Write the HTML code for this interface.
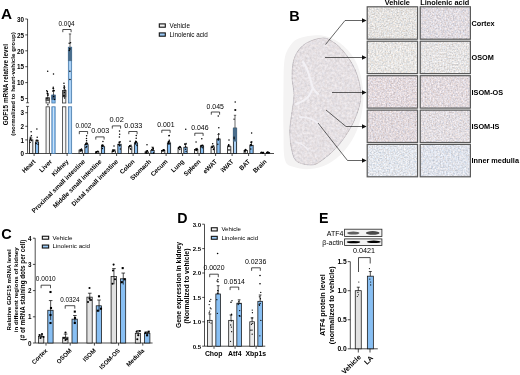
<!DOCTYPE html>
<html><head><meta charset="utf-8"><title>Figure</title>
<style>html,body{margin:0;padding:0;background:#fff}svg{display:block}text{font-family:"Liberation Sans",Arial,sans-serif}</style></head>
<body><svg width="520" height="375" viewBox="0 0 520 375">
<defs>
<filter id="tex" x="-5%" y="-5%" width="110%" height="110%"><feTurbulence type="fractalNoise" baseFrequency="0.4" numOctaves="3" seed="5" result="n"/><feColorMatrix in="n" type="matrix" values="0.8 0.2 0 0 0  0.8 0.1 0.1 0 0  0.8 0 0.2 0 0  0 0 0 0 1" result="m"/><feComposite in="SourceGraphic" in2="m" operator="arithmetic" k1="0" k2="1" k3="0.4" k4="-0.2" result="c"/><feComposite in="c" in2="SourceGraphic" operator="in"/></filter>
<filter id="tile0" x="0" y="0" width="100%" height="100%"><feTurbulence type="fractalNoise" baseFrequency="0.65" numOctaves="3" seed="11" result="n"/><feColorMatrix in="n" type="matrix" values="0.7 0.3 0 0 0  0.7 0.15 0.15 0 0  0.7 0 0.3 0 0  0 0 0 0 1" result="m"/><feComposite in="SourceGraphic" in2="m" operator="arithmetic" k1="0" k2="1" k3="0.8" k4="-0.4" result="c"/><feComposite in="c" in2="SourceGraphic" operator="in"/></filter>
<filter id="tile1" x="0" y="0" width="100%" height="100%"><feTurbulence type="fractalNoise" baseFrequency="0.6" numOctaves="3" seed="29" result="n"/><feColorMatrix in="n" type="matrix" values="0.7 0.3 0 0 0  0.7 0.15 0.15 0 0  0.7 0 0.3 0 0  0 0 0 0 1" result="m"/><feComposite in="SourceGraphic" in2="m" operator="arithmetic" k1="0" k2="1" k3="0.8" k4="-0.4" result="c"/><feComposite in="c" in2="SourceGraphic" operator="in"/></filter>
<filter id="blur" x="-20%" y="-80%" width="140%" height="260%"><feGaussianBlur stdDeviation="0.7"/></filter>
<filter id="blur2" x="-20%" y="-80%" width="140%" height="260%"><feGaussianBlur stdDeviation="0.35"/></filter>
</defs>
<rect width="520" height="375" fill="#fff"/>
<text x="0.90" y="19.40" font-size="15.3" font-weight="bold" text-anchor="start" fill="#000">A</text>
<line x1="27.55" y1="19.00" x2="27.55" y2="102.80" stroke="#000" stroke-width="0.7"/>
<line x1="27.55" y1="106.40" x2="27.55" y2="153.50" stroke="#000" stroke-width="0.7"/>
<line x1="26.05" y1="102.80" x2="29.05" y2="102.80" stroke="#000" stroke-width="0.6"/>
<line x1="26.05" y1="106.40" x2="29.05" y2="106.40" stroke="#000" stroke-width="0.6"/>
<line x1="25.25" y1="19.00" x2="27.55" y2="19.00" stroke="#000" stroke-width="0.7"/>
<text x="23.95" y="21.70" font-size="6.3" font-weight="bold" text-anchor="end" fill="#000">30</text>
<line x1="25.25" y1="34.90" x2="27.55" y2="34.90" stroke="#000" stroke-width="0.7"/>
<text x="23.95" y="37.60" font-size="6.3" font-weight="bold" text-anchor="end" fill="#000">25</text>
<line x1="25.25" y1="50.80" x2="27.55" y2="50.80" stroke="#000" stroke-width="0.7"/>
<text x="23.95" y="53.50" font-size="6.3" font-weight="bold" text-anchor="end" fill="#000">20</text>
<line x1="25.25" y1="66.70" x2="27.55" y2="66.70" stroke="#000" stroke-width="0.7"/>
<text x="23.95" y="69.40" font-size="6.3" font-weight="bold" text-anchor="end" fill="#000">15</text>
<line x1="25.25" y1="82.60" x2="27.55" y2="82.60" stroke="#000" stroke-width="0.7"/>
<text x="23.95" y="85.30" font-size="6.3" font-weight="bold" text-anchor="end" fill="#000">10</text>
<line x1="25.25" y1="98.50" x2="27.55" y2="98.50" stroke="#000" stroke-width="0.7"/>
<text x="23.95" y="101.20" font-size="6.3" font-weight="bold" text-anchor="end" fill="#000">5</text>
<line x1="25.25" y1="112.70" x2="27.55" y2="112.70" stroke="#000" stroke-width="0.7"/>
<text x="23.95" y="115.40" font-size="6.3" font-weight="bold" text-anchor="end" fill="#000">3</text>
<line x1="25.25" y1="126.30" x2="27.55" y2="126.30" stroke="#000" stroke-width="0.7"/>
<text x="23.95" y="129.00" font-size="6.3" font-weight="bold" text-anchor="end" fill="#000">2</text>
<line x1="25.25" y1="139.90" x2="27.55" y2="139.90" stroke="#000" stroke-width="0.7"/>
<text x="23.95" y="142.60" font-size="6.3" font-weight="bold" text-anchor="end" fill="#000">1</text>
<line x1="25.25" y1="153.50" x2="27.55" y2="153.50" stroke="#000" stroke-width="0.7"/>
<text x="23.95" y="156.20" font-size="6.3" font-weight="bold" text-anchor="end" fill="#000">0</text>
<line x1="27.55" y1="153.50" x2="274.00" y2="153.50" stroke="#000" stroke-width="0.7"/>
<text x="7.60" y="84.70" font-size="6.35" font-weight="bold" text-anchor="middle" fill="#000" transform="rotate(-90 7.60 84.70)">GDF15 mRNA relative level</text>
<text x="14.90" y="84.00" font-size="6.2" font-weight="bold" text-anchor="middle" fill="#000" transform="rotate(-90 14.90 84.00)">(normalized to heart-vehicle group)</text>
<rect x="159.30" y="23.90" width="6.00" height="3.30" fill="#f4f4f4" stroke="#111" stroke-width="1.1"/>
<rect x="159.30" y="32.90" width="6.00" height="3.30" fill="#9ccbf7" stroke="#111" stroke-width="1.1"/>
<text x="169.60" y="27.80" font-size="6.3" text-anchor="start" fill="#000">Vehicle</text>
<text x="169.60" y="36.90" font-size="6.3" text-anchor="start" fill="#000">Linolenic acid</text>
<rect x="29.55" y="139.90" width="3.30" height="13.60" fill="#f6f6f6" stroke="#111" stroke-width="0.8"/>
<line x1="31.20" y1="137.86" x2="31.20" y2="139.90" stroke="#000" stroke-width="0.6"/>
<line x1="30.00" y1="137.86" x2="32.40" y2="137.86" stroke="#000" stroke-width="0.6"/>
<circle cx="31.53" cy="140.58" r="0.7" fill="#000"/>
<circle cx="30.26" cy="138.54" r="0.7" fill="#000"/>
<circle cx="30.23" cy="142.37" r="0.7" fill="#000"/>
<circle cx="31.22" cy="140.47" r="0.7" fill="#000"/>
<circle cx="30.25" cy="137.15" r="0.7" fill="#000"/>
<circle cx="30.30" cy="139.24" r="0.7" fill="#000"/>
<circle cx="31.15" cy="131.74" r="0.75" fill="#000"/>
<circle cx="31.40" cy="135.82" r="0.75" fill="#000"/>
<rect x="35.35" y="141.94" width="3.30" height="11.56" fill="#88bff3" stroke="#111" stroke-width="0.8"/>
<line x1="37.00" y1="139.90" x2="37.00" y2="141.94" stroke="#000" stroke-width="0.6"/>
<line x1="35.80" y1="139.90" x2="38.20" y2="139.90" stroke="#000" stroke-width="0.6"/>
<circle cx="37.28" cy="140.60" r="0.7" fill="#000"/>
<circle cx="37.98" cy="140.62" r="0.7" fill="#000"/>
<circle cx="38.05" cy="144.30" r="0.7" fill="#000"/>
<circle cx="36.00" cy="143.18" r="0.7" fill="#000"/>
<circle cx="36.22" cy="140.56" r="0.7" fill="#000"/>
<circle cx="36.16" cy="143.64" r="0.7" fill="#000"/>
<circle cx="36.89" cy="129.02" r="0.75" fill="#000"/>
<circle cx="37.19" cy="137.18" r="0.75" fill="#000"/>
<line x1="34.10" y1="153.50" x2="34.10" y2="156.00" stroke="#000" stroke-width="0.7"/>
<text x="36.10" y="161.90" font-size="6.35" font-weight="bold" text-anchor="end" fill="#000" transform="rotate(-45 36.10 161.90)">Heart</text>
<rect x="46.05" y="106.80" width="3.30" height="46.70" fill="#f6f6f6" stroke="#333" stroke-width="0.8"/>
<rect x="46.05" y="97.86" width="3.30" height="5.14" fill="#f6f6f6" stroke="#333" stroke-width="0.8"/>
<rect x="46.05" y="97.86" width="3.30" height="2.57" fill="#6a6a6a" stroke="#444" stroke-width="0.8"/>
<line x1="47.70" y1="93.73" x2="47.70" y2="97.86" stroke="#000" stroke-width="0.6"/>
<line x1="46.50" y1="93.73" x2="48.90" y2="93.73" stroke="#000" stroke-width="0.6"/>
<circle cx="48.01" cy="94.87" r="0.7" fill="#000"/>
<circle cx="47.42" cy="91.43" r="0.7" fill="#000"/>
<circle cx="46.73" cy="90.69" r="0.7" fill="#000"/>
<circle cx="47.05" cy="98.44" r="0.7" fill="#000"/>
<circle cx="47.29" cy="93.06" r="0.7" fill="#000"/>
<circle cx="47.89" cy="104.77" r="0.7" fill="#000"/>
<circle cx="47.67" cy="71.15" r="0.75" fill="#000"/>
<circle cx="47.58" cy="93.41" r="0.75" fill="#000"/>
<circle cx="47.88" cy="95.32" r="0.75" fill="#000"/>
<rect x="51.85" y="106.80" width="3.30" height="46.70" fill="#88bff3" stroke="#4a7aa8" stroke-width="0.8"/>
<rect x="51.85" y="95.16" width="3.30" height="7.84" fill="#88bff3" stroke="#4a7aa8" stroke-width="0.8"/>
<line x1="53.50" y1="107.40" x2="53.50" y2="153.00" stroke="#eaf3fb" stroke-width="0.7"/>
<rect x="51.85" y="95.16" width="3.30" height="4.31" fill="#3b5b7b" stroke="#3b5b7b" stroke-width="0.8"/>
<rect x="51.85" y="95.16" width="3.30" height="-4.90" fill="#4a6e8c" stroke="#4a6e8c" stroke-width="0.8"/>
<line x1="53.50" y1="90.71" x2="53.50" y2="95.16" stroke="#000" stroke-width="0.6"/>
<line x1="52.30" y1="90.71" x2="54.70" y2="90.71" stroke="#000" stroke-width="0.6"/>
<circle cx="53.66" cy="96.52" r="0.7" fill="#000"/>
<circle cx="53.56" cy="88.79" r="0.7" fill="#000"/>
<circle cx="53.03" cy="88.54" r="0.7" fill="#000"/>
<circle cx="54.56" cy="99.50" r="0.7" fill="#000"/>
<circle cx="54.07" cy="90.72" r="0.7" fill="#000"/>
<circle cx="52.73" cy="91.09" r="0.7" fill="#000"/>
<circle cx="53.49" cy="74.01" r="0.75" fill="#000"/>
<circle cx="53.22" cy="87.21" r="0.75" fill="#000"/>
<circle cx="53.60" cy="90.55" r="0.75" fill="#000"/>
<line x1="50.60" y1="153.50" x2="50.60" y2="156.00" stroke="#000" stroke-width="0.7"/>
<text x="52.60" y="161.90" font-size="6.35" font-weight="bold" text-anchor="end" fill="#000" transform="rotate(-45 52.60 161.90)">Liver</text>
<rect x="62.55" y="106.80" width="3.30" height="46.70" fill="#f6f6f6" stroke="#333" stroke-width="0.8"/>
<rect x="62.55" y="90.55" width="3.30" height="12.45" fill="#f6f6f6" stroke="#333" stroke-width="0.8"/>
<rect x="62.55" y="90.55" width="3.30" height="6.23" fill="#6a6a6a" stroke="#444" stroke-width="0.8"/>
<line x1="64.20" y1="87.37" x2="64.20" y2="90.55" stroke="#000" stroke-width="0.6"/>
<line x1="63.00" y1="87.37" x2="65.40" y2="87.37" stroke="#000" stroke-width="0.6"/>
<circle cx="65.03" cy="90.06" r="0.7" fill="#000"/>
<circle cx="63.79" cy="95.92" r="0.7" fill="#000"/>
<circle cx="64.38" cy="92.42" r="0.7" fill="#000"/>
<circle cx="64.10" cy="95.78" r="0.7" fill="#000"/>
<circle cx="64.14" cy="85.59" r="0.7" fill="#000"/>
<circle cx="64.56" cy="97.99" r="0.7" fill="#000"/>
<circle cx="63.94" cy="83.24" r="0.75" fill="#000"/>
<circle cx="64.32" cy="86.73" r="0.75" fill="#000"/>
<circle cx="64.29" cy="88.32" r="0.75" fill="#000"/>
<rect x="68.35" y="106.80" width="3.30" height="46.70" fill="#88bff3" stroke="#4a7aa8" stroke-width="0.8"/>
<rect x="68.35" y="47.30" width="3.30" height="55.70" fill="#88bff3" stroke="#4a7aa8" stroke-width="0.8"/>
<line x1="70.00" y1="107.40" x2="70.00" y2="153.00" stroke="#eaf3fb" stroke-width="0.7"/>
<line x1="70.00" y1="61.16" x2="70.00" y2="102.60" stroke="#eaf3fb" stroke-width="0.7"/>
<rect x="68.35" y="47.30" width="3.30" height="13.36" fill="#4a6e8c" stroke="#4a6e8c" stroke-width="0.8"/>
<line x1="70.00" y1="33.95" x2="70.00" y2="47.30" stroke="#000" stroke-width="0.6"/>
<line x1="68.80" y1="33.95" x2="71.20" y2="33.95" stroke="#000" stroke-width="0.6"/>
<circle cx="69.53" cy="26.47" r="0.7" fill="#000"/>
<circle cx="69.75" cy="48.70" r="0.7" fill="#000"/>
<circle cx="69.92" cy="49.12" r="0.7" fill="#000"/>
<circle cx="69.27" cy="50.54" r="0.7" fill="#000"/>
<circle cx="70.59" cy="42.81" r="0.7" fill="#000"/>
<circle cx="69.18" cy="43.24" r="0.7" fill="#000"/>
<circle cx="69.85" cy="71.15" r="0.75" fill="#000"/>
<circle cx="69.93" cy="79.42" r="0.75" fill="#000"/>
<line x1="67.10" y1="153.50" x2="67.10" y2="156.00" stroke="#000" stroke-width="0.7"/>
<text x="69.10" y="161.90" font-size="6.35" font-weight="bold" text-anchor="end" fill="#000" transform="rotate(-45 69.10 161.90)">Kidney</text>
<rect x="79.05" y="150.10" width="3.30" height="3.40" fill="#f6f6f6" stroke="#111" stroke-width="0.8"/>
<line x1="80.70" y1="149.42" x2="80.70" y2="150.10" stroke="#000" stroke-width="0.6"/>
<line x1="79.50" y1="149.42" x2="81.90" y2="149.42" stroke="#000" stroke-width="0.6"/>
<circle cx="80.59" cy="149.85" r="0.7" fill="#000"/>
<circle cx="80.81" cy="150.36" r="0.7" fill="#000"/>
<circle cx="81.50" cy="149.04" r="0.7" fill="#000"/>
<circle cx="80.21" cy="151.19" r="0.7" fill="#000"/>
<circle cx="81.55" cy="150.82" r="0.7" fill="#000"/>
<circle cx="81.71" cy="149.68" r="0.7" fill="#000"/>
<rect x="84.85" y="144.66" width="3.30" height="8.84" fill="#88bff3" stroke="#111" stroke-width="0.8"/>
<line x1="86.50" y1="143.03" x2="86.50" y2="144.66" stroke="#000" stroke-width="0.6"/>
<line x1="85.30" y1="143.03" x2="87.70" y2="143.03" stroke="#000" stroke-width="0.6"/>
<circle cx="85.91" cy="143.89" r="0.7" fill="#000"/>
<circle cx="85.91" cy="143.59" r="0.7" fill="#000"/>
<circle cx="85.98" cy="147.48" r="0.7" fill="#000"/>
<circle cx="85.41" cy="144.39" r="0.7" fill="#000"/>
<circle cx="86.65" cy="146.44" r="0.7" fill="#000"/>
<circle cx="87.50" cy="143.67" r="0.7" fill="#000"/>
<circle cx="86.61" cy="135.82" r="0.75" fill="#000"/>
<circle cx="86.51" cy="138.54" r="0.75" fill="#000"/>
<circle cx="86.57" cy="140.85" r="0.75" fill="#000"/>
<circle cx="86.61" cy="142.89" r="0.75" fill="#000"/>
<line x1="83.60" y1="153.50" x2="83.60" y2="156.00" stroke="#000" stroke-width="0.7"/>
<text x="85.60" y="161.90" font-size="6.35" font-weight="bold" text-anchor="end" fill="#000" transform="rotate(-45 85.60 161.90)">Proximal small intestine</text>
<rect x="95.55" y="151.87" width="3.30" height="1.63" fill="#f6f6f6" stroke="#111" stroke-width="0.8"/>
<line x1="97.20" y1="151.46" x2="97.20" y2="151.87" stroke="#000" stroke-width="0.6"/>
<line x1="96.00" y1="151.46" x2="98.40" y2="151.46" stroke="#000" stroke-width="0.6"/>
<circle cx="97.82" cy="151.23" r="0.7" fill="#000"/>
<circle cx="98.02" cy="151.49" r="0.7" fill="#000"/>
<circle cx="96.98" cy="151.71" r="0.7" fill="#000"/>
<circle cx="96.33" cy="152.37" r="0.7" fill="#000"/>
<circle cx="96.25" cy="151.99" r="0.7" fill="#000"/>
<circle cx="96.56" cy="152.01" r="0.7" fill="#000"/>
<rect x="101.35" y="146.70" width="3.30" height="6.80" fill="#88bff3" stroke="#111" stroke-width="0.8"/>
<line x1="103.00" y1="145.34" x2="103.00" y2="146.70" stroke="#000" stroke-width="0.6"/>
<line x1="101.80" y1="145.34" x2="104.20" y2="145.34" stroke="#000" stroke-width="0.6"/>
<circle cx="102.02" cy="145.86" r="0.7" fill="#000"/>
<circle cx="101.90" cy="145.33" r="0.7" fill="#000"/>
<circle cx="102.70" cy="146.22" r="0.7" fill="#000"/>
<circle cx="101.96" cy="146.03" r="0.7" fill="#000"/>
<circle cx="102.23" cy="144.98" r="0.7" fill="#000"/>
<circle cx="102.45" cy="148.43" r="0.7" fill="#000"/>
<circle cx="102.91" cy="141.53" r="0.75" fill="#000"/>
<circle cx="102.92" cy="145.34" r="0.75" fill="#000"/>
<line x1="100.10" y1="153.50" x2="100.10" y2="156.00" stroke="#000" stroke-width="0.7"/>
<text x="102.10" y="161.90" font-size="6.35" font-weight="bold" text-anchor="end" fill="#000" transform="rotate(-45 102.10 161.90)">Middle small intestine</text>
<rect x="112.05" y="151.05" width="3.30" height="2.45" fill="#f6f6f6" stroke="#111" stroke-width="0.8"/>
<line x1="113.70" y1="150.37" x2="113.70" y2="151.05" stroke="#000" stroke-width="0.6"/>
<line x1="112.50" y1="150.37" x2="114.90" y2="150.37" stroke="#000" stroke-width="0.6"/>
<circle cx="114.78" cy="149.99" r="0.7" fill="#000"/>
<circle cx="113.63" cy="149.99" r="0.7" fill="#000"/>
<circle cx="112.82" cy="151.42" r="0.7" fill="#000"/>
<circle cx="113.35" cy="151.01" r="0.7" fill="#000"/>
<circle cx="112.96" cy="151.21" r="0.7" fill="#000"/>
<circle cx="112.65" cy="149.99" r="0.7" fill="#000"/>
<circle cx="113.97" cy="146.02" r="0.75" fill="#000"/>
<rect x="117.85" y="144.25" width="3.30" height="9.25" fill="#88bff3" stroke="#111" stroke-width="0.8"/>
<line x1="119.50" y1="142.21" x2="119.50" y2="144.25" stroke="#000" stroke-width="0.6"/>
<line x1="118.30" y1="142.21" x2="120.70" y2="142.21" stroke="#000" stroke-width="0.6"/>
<circle cx="119.59" cy="145.72" r="0.7" fill="#000"/>
<circle cx="118.46" cy="144.52" r="0.7" fill="#000"/>
<circle cx="120.30" cy="149.03" r="0.7" fill="#000"/>
<circle cx="119.93" cy="145.54" r="0.7" fill="#000"/>
<circle cx="118.77" cy="144.43" r="0.7" fill="#000"/>
<circle cx="120.10" cy="141.72" r="0.7" fill="#000"/>
<circle cx="119.52" cy="130.92" r="0.75" fill="#000"/>
<circle cx="119.67" cy="134.19" r="0.75" fill="#000"/>
<circle cx="119.40" cy="136.91" r="0.75" fill="#000"/>
<circle cx="119.33" cy="142.35" r="0.75" fill="#000"/>
<line x1="116.60" y1="153.50" x2="116.60" y2="156.00" stroke="#000" stroke-width="0.7"/>
<text x="118.60" y="161.90" font-size="6.35" font-weight="bold" text-anchor="end" fill="#000" transform="rotate(-45 118.60 161.90)">Distal small intestine</text>
<rect x="128.55" y="146.70" width="3.30" height="6.80" fill="#f6f6f6" stroke="#111" stroke-width="0.8"/>
<line x1="130.20" y1="145.61" x2="130.20" y2="146.70" stroke="#000" stroke-width="0.6"/>
<line x1="129.00" y1="145.61" x2="131.40" y2="145.61" stroke="#000" stroke-width="0.6"/>
<circle cx="130.98" cy="145.16" r="0.7" fill="#000"/>
<circle cx="130.87" cy="149.25" r="0.7" fill="#000"/>
<circle cx="129.60" cy="145.73" r="0.7" fill="#000"/>
<circle cx="130.24" cy="148.81" r="0.7" fill="#000"/>
<circle cx="129.16" cy="146.91" r="0.7" fill="#000"/>
<circle cx="129.71" cy="146.43" r="0.7" fill="#000"/>
<circle cx="130.06" cy="141.26" r="0.75" fill="#000"/>
<rect x="134.35" y="142.89" width="3.30" height="10.61" fill="#88bff3" stroke="#111" stroke-width="0.8"/>
<line x1="136.00" y1="141.80" x2="136.00" y2="142.89" stroke="#000" stroke-width="0.6"/>
<line x1="134.80" y1="141.80" x2="137.20" y2="141.80" stroke="#000" stroke-width="0.6"/>
<circle cx="135.88" cy="144.14" r="0.7" fill="#000"/>
<circle cx="136.96" cy="145.44" r="0.7" fill="#000"/>
<circle cx="135.70" cy="141.19" r="0.7" fill="#000"/>
<circle cx="135.39" cy="143.16" r="0.7" fill="#000"/>
<circle cx="135.35" cy="142.76" r="0.7" fill="#000"/>
<circle cx="136.27" cy="141.97" r="0.7" fill="#000"/>
<circle cx="136.24" cy="135.55" r="0.75" fill="#000"/>
<circle cx="136.20" cy="138.27" r="0.75" fill="#000"/>
<circle cx="135.99" cy="141.53" r="0.75" fill="#000"/>
<line x1="133.10" y1="153.50" x2="133.10" y2="156.00" stroke="#000" stroke-width="0.7"/>
<text x="135.10" y="161.90" font-size="6.35" font-weight="bold" text-anchor="end" fill="#000" transform="rotate(-45 135.10 161.90)">Colon</text>
<rect x="145.05" y="151.87" width="3.30" height="1.63" fill="#f6f6f6" stroke="#111" stroke-width="0.8"/>
<line x1="146.70" y1="151.19" x2="146.70" y2="151.87" stroke="#000" stroke-width="0.6"/>
<line x1="145.50" y1="151.19" x2="147.90" y2="151.19" stroke="#000" stroke-width="0.6"/>
<circle cx="145.79" cy="152.78" r="0.7" fill="#000"/>
<circle cx="147.05" cy="153.09" r="0.7" fill="#000"/>
<circle cx="147.25" cy="150.81" r="0.7" fill="#000"/>
<circle cx="146.65" cy="152.70" r="0.7" fill="#000"/>
<circle cx="146.33" cy="151.19" r="0.7" fill="#000"/>
<circle cx="147.36" cy="150.81" r="0.7" fill="#000"/>
<circle cx="146.98" cy="144.66" r="0.75" fill="#000"/>
<rect x="150.85" y="150.51" width="3.30" height="2.99" fill="#88bff3" stroke="#111" stroke-width="0.8"/>
<line x1="152.50" y1="147.11" x2="152.50" y2="150.51" stroke="#000" stroke-width="0.6"/>
<line x1="151.30" y1="147.11" x2="153.70" y2="147.11" stroke="#000" stroke-width="0.6"/>
<circle cx="153.48" cy="153.09" r="0.7" fill="#000"/>
<circle cx="152.99" cy="147.78" r="0.7" fill="#000"/>
<circle cx="151.73" cy="149.40" r="0.7" fill="#000"/>
<circle cx="153.39" cy="148.49" r="0.7" fill="#000"/>
<circle cx="153.22" cy="149.64" r="0.7" fill="#000"/>
<circle cx="153.56" cy="152.84" r="0.7" fill="#000"/>
<line x1="149.60" y1="153.50" x2="149.60" y2="156.00" stroke="#000" stroke-width="0.7"/>
<text x="151.60" y="161.90" font-size="6.35" font-weight="bold" text-anchor="end" fill="#000" transform="rotate(-45 151.60 161.90)">Stomach</text>
<rect x="161.55" y="150.51" width="3.30" height="2.99" fill="#f6f6f6" stroke="#111" stroke-width="0.8"/>
<line x1="163.20" y1="149.96" x2="163.20" y2="150.51" stroke="#000" stroke-width="0.6"/>
<line x1="162.00" y1="149.96" x2="164.40" y2="149.96" stroke="#000" stroke-width="0.6"/>
<circle cx="163.31" cy="150.87" r="0.7" fill="#000"/>
<circle cx="162.39" cy="151.06" r="0.7" fill="#000"/>
<circle cx="163.53" cy="149.66" r="0.7" fill="#000"/>
<circle cx="163.26" cy="150.34" r="0.7" fill="#000"/>
<circle cx="164.02" cy="149.82" r="0.7" fill="#000"/>
<circle cx="163.92" cy="150.81" r="0.7" fill="#000"/>
<rect x="167.35" y="142.89" width="3.30" height="10.61" fill="#88bff3" stroke="#111" stroke-width="0.8"/>
<line x1="169.00" y1="141.53" x2="169.00" y2="142.89" stroke="#000" stroke-width="0.6"/>
<line x1="167.80" y1="141.53" x2="170.20" y2="141.53" stroke="#000" stroke-width="0.6"/>
<circle cx="168.54" cy="142.57" r="0.7" fill="#000"/>
<circle cx="168.43" cy="141.59" r="0.7" fill="#000"/>
<circle cx="168.82" cy="144.06" r="0.7" fill="#000"/>
<circle cx="168.19" cy="143.60" r="0.7" fill="#000"/>
<circle cx="168.91" cy="141.50" r="0.7" fill="#000"/>
<circle cx="169.18" cy="143.78" r="0.7" fill="#000"/>
<circle cx="169.24" cy="135.55" r="0.75" fill="#000"/>
<circle cx="168.95" cy="135.82" r="0.75" fill="#000"/>
<circle cx="169.25" cy="140.17" r="0.75" fill="#000"/>
<line x1="166.10" y1="153.50" x2="166.10" y2="156.00" stroke="#000" stroke-width="0.7"/>
<text x="168.10" y="161.90" font-size="6.35" font-weight="bold" text-anchor="end" fill="#000" transform="rotate(-45 168.10 161.90)">Cecum</text>
<rect x="178.05" y="147.79" width="3.30" height="5.71" fill="#f6f6f6" stroke="#111" stroke-width="0.8"/>
<line x1="179.70" y1="146.70" x2="179.70" y2="147.79" stroke="#000" stroke-width="0.6"/>
<line x1="178.50" y1="146.70" x2="180.90" y2="146.70" stroke="#000" stroke-width="0.6"/>
<circle cx="179.75" cy="149.53" r="0.7" fill="#000"/>
<circle cx="178.64" cy="147.81" r="0.7" fill="#000"/>
<circle cx="178.61" cy="148.62" r="0.7" fill="#000"/>
<circle cx="180.36" cy="147.46" r="0.7" fill="#000"/>
<circle cx="180.20" cy="147.04" r="0.7" fill="#000"/>
<circle cx="179.82" cy="146.37" r="0.7" fill="#000"/>
<rect x="183.85" y="147.24" width="3.30" height="6.26" fill="#88bff3" stroke="#111" stroke-width="0.8"/>
<line x1="185.50" y1="144.52" x2="185.50" y2="147.24" stroke="#000" stroke-width="0.6"/>
<line x1="184.30" y1="144.52" x2="186.70" y2="144.52" stroke="#000" stroke-width="0.6"/>
<circle cx="185.62" cy="149.21" r="0.7" fill="#000"/>
<circle cx="186.13" cy="143.45" r="0.7" fill="#000"/>
<circle cx="184.95" cy="143.68" r="0.7" fill="#000"/>
<circle cx="185.01" cy="144.44" r="0.7" fill="#000"/>
<circle cx="185.64" cy="146.66" r="0.7" fill="#000"/>
<circle cx="186.07" cy="151.41" r="0.7" fill="#000"/>
<circle cx="185.75" cy="129.16" r="0.75" fill="#000"/>
<line x1="182.60" y1="153.50" x2="182.60" y2="156.00" stroke="#000" stroke-width="0.7"/>
<text x="184.60" y="161.90" font-size="6.35" font-weight="bold" text-anchor="end" fill="#000" transform="rotate(-45 184.60 161.90)">Lung</text>
<rect x="194.55" y="149.42" width="3.30" height="4.08" fill="#f6f6f6" stroke="#111" stroke-width="0.8"/>
<line x1="196.20" y1="148.74" x2="196.20" y2="149.42" stroke="#000" stroke-width="0.6"/>
<line x1="195.00" y1="148.74" x2="197.40" y2="148.74" stroke="#000" stroke-width="0.6"/>
<circle cx="196.21" cy="150.56" r="0.7" fill="#000"/>
<circle cx="196.23" cy="149.00" r="0.7" fill="#000"/>
<circle cx="196.27" cy="149.76" r="0.7" fill="#000"/>
<circle cx="196.15" cy="150.33" r="0.7" fill="#000"/>
<circle cx="197.03" cy="148.36" r="0.7" fill="#000"/>
<circle cx="197.17" cy="149.91" r="0.7" fill="#000"/>
<circle cx="196.06" cy="141.94" r="0.75" fill="#000"/>
<rect x="200.35" y="146.16" width="3.30" height="7.34" fill="#88bff3" stroke="#111" stroke-width="0.8"/>
<line x1="202.00" y1="145.48" x2="202.00" y2="146.16" stroke="#000" stroke-width="0.6"/>
<line x1="200.80" y1="145.48" x2="203.20" y2="145.48" stroke="#000" stroke-width="0.6"/>
<circle cx="202.75" cy="147.75" r="0.7" fill="#000"/>
<circle cx="201.20" cy="146.93" r="0.7" fill="#000"/>
<circle cx="201.06" cy="145.47" r="0.7" fill="#000"/>
<circle cx="201.43" cy="145.50" r="0.7" fill="#000"/>
<circle cx="202.62" cy="145.10" r="0.7" fill="#000"/>
<circle cx="202.87" cy="145.57" r="0.7" fill="#000"/>
<circle cx="201.79" cy="138.81" r="0.75" fill="#000"/>
<line x1="199.10" y1="153.50" x2="199.10" y2="156.00" stroke="#000" stroke-width="0.7"/>
<text x="201.10" y="161.90" font-size="6.35" font-weight="bold" text-anchor="end" fill="#000" transform="rotate(-45 201.10 161.90)">Spleen</text>
<rect x="211.05" y="146.97" width="3.30" height="6.53" fill="#f6f6f6" stroke="#111" stroke-width="0.8"/>
<line x1="212.70" y1="145.88" x2="212.70" y2="146.97" stroke="#000" stroke-width="0.6"/>
<line x1="211.50" y1="145.88" x2="213.90" y2="145.88" stroke="#000" stroke-width="0.6"/>
<circle cx="211.91" cy="147.41" r="0.7" fill="#000"/>
<circle cx="213.54" cy="149.00" r="0.7" fill="#000"/>
<circle cx="213.70" cy="146.00" r="0.7" fill="#000"/>
<circle cx="212.48" cy="147.17" r="0.7" fill="#000"/>
<circle cx="213.43" cy="149.52" r="0.7" fill="#000"/>
<circle cx="211.96" cy="146.63" r="0.7" fill="#000"/>
<circle cx="212.66" cy="143.71" r="0.75" fill="#000"/>
<rect x="216.85" y="138.95" width="3.30" height="14.55" fill="#88bff3" stroke="#111" stroke-width="0.8"/>
<line x1="218.50" y1="134.46" x2="218.50" y2="138.95" stroke="#000" stroke-width="0.6"/>
<line x1="217.30" y1="134.46" x2="219.70" y2="134.46" stroke="#000" stroke-width="0.6"/>
<circle cx="217.83" cy="144.23" r="0.7" fill="#000"/>
<circle cx="218.10" cy="139.47" r="0.7" fill="#000"/>
<circle cx="218.62" cy="139.15" r="0.7" fill="#000"/>
<circle cx="218.37" cy="140.09" r="0.7" fill="#000"/>
<circle cx="218.77" cy="133.75" r="0.7" fill="#000"/>
<circle cx="218.53" cy="138.35" r="0.7" fill="#000"/>
<circle cx="218.24" cy="116.10" r="0.75" fill="#000"/>
<circle cx="218.79" cy="127.66" r="0.75" fill="#000"/>
<line x1="215.60" y1="153.50" x2="215.60" y2="156.00" stroke="#000" stroke-width="0.7"/>
<text x="217.60" y="161.90" font-size="6.35" font-weight="bold" text-anchor="end" fill="#000" transform="rotate(-45 217.60 161.90)">eWAT</text>
<rect x="227.55" y="146.70" width="3.30" height="6.80" fill="#f6f6f6" stroke="#111" stroke-width="0.8"/>
<line x1="229.20" y1="145.34" x2="229.20" y2="146.70" stroke="#000" stroke-width="0.6"/>
<line x1="228.00" y1="145.34" x2="230.40" y2="145.34" stroke="#000" stroke-width="0.6"/>
<circle cx="228.33" cy="145.57" r="0.7" fill="#000"/>
<circle cx="228.68" cy="149.88" r="0.7" fill="#000"/>
<circle cx="228.69" cy="144.58" r="0.7" fill="#000"/>
<circle cx="228.39" cy="145.94" r="0.7" fill="#000"/>
<circle cx="229.90" cy="149.88" r="0.7" fill="#000"/>
<circle cx="228.67" cy="144.87" r="0.7" fill="#000"/>
<circle cx="228.99" cy="139.90" r="0.75" fill="#000"/>
<rect x="233.35" y="128.20" width="3.30" height="25.30" fill="#88bff3" stroke="#111" stroke-width="0.8"/>
<rect x="233.35" y="128.20" width="3.30" height="12.92" fill="#4a6e8c" stroke="#4a6e8c" stroke-width="0.8"/>
<line x1="235.00" y1="141.62" x2="235.00" y2="153.00" stroke="#eaf3fb" stroke-width="0.7"/>
<line x1="235.00" y1="115.28" x2="235.00" y2="128.20" stroke="#000" stroke-width="0.6"/>
<line x1="233.80" y1="115.28" x2="236.20" y2="115.28" stroke="#000" stroke-width="0.6"/>
<circle cx="235.44" cy="109.98" r="0.7" fill="#000"/>
<circle cx="234.10" cy="138.82" r="0.7" fill="#000"/>
<circle cx="234.84" cy="109.98" r="0.7" fill="#000"/>
<circle cx="234.06" cy="119.14" r="0.7" fill="#000"/>
<circle cx="235.66" cy="109.98" r="0.7" fill="#000"/>
<circle cx="234.08" cy="137.20" r="0.7" fill="#000"/>
<circle cx="235.21" cy="102.09" r="0.75" fill="#000"/>
<line x1="232.10" y1="153.50" x2="232.10" y2="156.00" stroke="#000" stroke-width="0.7"/>
<text x="234.10" y="161.90" font-size="6.35" font-weight="bold" text-anchor="end" fill="#000" transform="rotate(-45 234.10 161.90)">iWAT</text>
<rect x="244.05" y="150.51" width="3.30" height="2.99" fill="#f6f6f6" stroke="#111" stroke-width="0.8"/>
<line x1="245.70" y1="149.83" x2="245.70" y2="150.51" stroke="#000" stroke-width="0.6"/>
<line x1="244.50" y1="149.83" x2="246.90" y2="149.83" stroke="#000" stroke-width="0.6"/>
<circle cx="245.60" cy="149.45" r="0.7" fill="#000"/>
<circle cx="245.35" cy="149.79" r="0.7" fill="#000"/>
<circle cx="245.19" cy="152.10" r="0.7" fill="#000"/>
<circle cx="244.88" cy="151.17" r="0.7" fill="#000"/>
<circle cx="244.84" cy="151.15" r="0.7" fill="#000"/>
<circle cx="244.96" cy="150.62" r="0.7" fill="#000"/>
<rect x="249.85" y="145.34" width="3.30" height="8.16" fill="#88bff3" stroke="#111" stroke-width="0.8"/>
<line x1="251.50" y1="141.94" x2="251.50" y2="145.34" stroke="#000" stroke-width="0.6"/>
<line x1="250.30" y1="141.94" x2="252.70" y2="141.94" stroke="#000" stroke-width="0.6"/>
<circle cx="251.09" cy="142.52" r="0.7" fill="#000"/>
<circle cx="251.07" cy="144.42" r="0.7" fill="#000"/>
<circle cx="251.50" cy="145.12" r="0.7" fill="#000"/>
<circle cx="250.79" cy="148.99" r="0.7" fill="#000"/>
<circle cx="250.95" cy="145.82" r="0.7" fill="#000"/>
<circle cx="250.43" cy="144.65" r="0.7" fill="#000"/>
<circle cx="251.64" cy="133.10" r="0.75" fill="#000"/>
<circle cx="251.53" cy="141.94" r="0.75" fill="#000"/>
<line x1="248.60" y1="153.50" x2="248.60" y2="156.00" stroke="#000" stroke-width="0.7"/>
<text x="250.60" y="161.90" font-size="6.35" font-weight="bold" text-anchor="end" fill="#000" transform="rotate(-45 250.60 161.90)">BAT</text>
<rect x="260.55" y="152.68" width="3.30" height="0.82" fill="#f6f6f6" stroke="#111" stroke-width="0.8"/>
<line x1="262.20" y1="152.41" x2="262.20" y2="152.68" stroke="#000" stroke-width="0.6"/>
<line x1="261.00" y1="152.41" x2="263.40" y2="152.41" stroke="#000" stroke-width="0.6"/>
<circle cx="263.16" cy="152.54" r="0.7" fill="#000"/>
<circle cx="261.33" cy="152.31" r="0.7" fill="#000"/>
<circle cx="262.19" cy="152.53" r="0.7" fill="#000"/>
<circle cx="262.94" cy="153.03" r="0.7" fill="#000"/>
<circle cx="262.61" cy="153.01" r="0.7" fill="#000"/>
<circle cx="263.26" cy="152.42" r="0.7" fill="#000"/>
<rect x="266.35" y="152.55" width="3.30" height="0.95" fill="#88bff3" stroke="#111" stroke-width="0.8"/>
<line x1="268.00" y1="152.28" x2="268.00" y2="152.55" stroke="#000" stroke-width="0.6"/>
<line x1="266.80" y1="152.28" x2="269.20" y2="152.28" stroke="#000" stroke-width="0.6"/>
<circle cx="268.45" cy="152.92" r="0.7" fill="#000"/>
<circle cx="268.30" cy="152.12" r="0.7" fill="#000"/>
<circle cx="267.02" cy="152.82" r="0.7" fill="#000"/>
<circle cx="267.19" cy="152.36" r="0.7" fill="#000"/>
<circle cx="267.46" cy="152.12" r="0.7" fill="#000"/>
<circle cx="267.26" cy="152.30" r="0.7" fill="#000"/>
<line x1="265.10" y1="153.50" x2="265.10" y2="156.00" stroke="#000" stroke-width="0.7"/>
<text x="267.10" y="161.90" font-size="6.35" font-weight="bold" text-anchor="end" fill="#000" transform="rotate(-45 267.10 161.90)">Brain</text>
<path d="M62.80 32.20V29.50H71.10V32.20" fill="none" stroke="#000" stroke-width="0.7"/>
<text x="66.50" y="26.30" font-size="6.4" text-anchor="middle" fill="#000">0.004</text>
<path d="M79.30 134.20V131.50H87.60V134.20" fill="none" stroke="#000" stroke-width="0.7"/>
<text x="83.40" y="128.20" font-size="6.3" text-anchor="middle" fill="#000">0.002</text>
<path d="M95.80 139.60V136.90H104.10V139.60" fill="none" stroke="#000" stroke-width="0.7"/>
<text x="100.20" y="133.00" font-size="7.2" text-anchor="middle" fill="#000">0.003</text>
<path d="M112.30 128.60V125.90H120.60V128.60" fill="none" stroke="#000" stroke-width="0.7"/>
<text x="116.60" y="121.90" font-size="7.4" text-anchor="middle" fill="#000">0.02</text>
<path d="M128.80 134.20V131.50H137.10V134.20" fill="none" stroke="#000" stroke-width="0.7"/>
<text x="133.30" y="127.90" font-size="7.3" text-anchor="middle" fill="#000">0.033</text>
<path d="M161.80 132.90V130.20H170.10V132.90" fill="none" stroke="#000" stroke-width="0.7"/>
<text x="165.90" y="126.60" font-size="6.9" text-anchor="middle" fill="#000">0.001</text>
<path d="M194.80 135.90V133.20H203.10V135.90" fill="none" stroke="#000" stroke-width="0.7"/>
<text x="199.90" y="129.80" font-size="6.9" text-anchor="middle" fill="#000">0.046</text>
<path d="M211.30 114.70V112.00H219.60V114.70" fill="none" stroke="#000" stroke-width="0.7"/>
<text x="215.20" y="108.50" font-size="6.9" text-anchor="middle" fill="#000">0.045</text>
<text x="289.30" y="20.80" font-size="14.5" font-weight="bold" text-anchor="start" fill="#000">B</text>
<path d="M300.0 38.0C305.3 36.2 315.3 34.7 322.0 35.5C328.7 36.3 334.5 38.9 340.0 43.0C345.5 47.1 351.3 53.5 355.0 60.0C358.7 66.5 360.7 74.5 362.0 82.0C363.3 89.5 363.8 97.0 363.0 105.0C362.2 113.0 360.0 122.5 357.0 130.0C354.0 137.5 349.8 144.3 345.0 150.0C340.2 155.7 333.8 160.8 328.0 164.0C322.2 167.2 315.7 168.5 310.0 169.0C304.3 169.5 298.2 168.5 294.0 167.0C289.8 165.5 286.8 166.2 285.0 160.0C283.2 153.8 283.8 141.7 283.5 130.0C283.2 118.3 283.3 101.7 283.5 90.0C283.7 78.3 283.4 67.3 284.5 60.0C285.6 52.7 287.4 49.7 290.0 46.0C292.6 42.3 294.7 39.8 300.0 38.0Z" fill="#f4f3f3"/>
<path d="M322.7 38.0C327.3 37.8 329.8 39.9 333.4 42.2C336.9 44.5 340.4 47.5 344.0 52.0C347.6 56.5 352.1 62.9 354.8 69.0C357.5 75.1 359.5 82.3 360.3 88.4C361.1 94.5 361.1 99.1 359.5 105.5C357.9 111.9 354.8 120.1 351.0 127.0C347.2 133.9 342.0 141.3 337.0 147.0C332.0 152.7 325.3 158.0 321.0 161.0C316.7 164.0 315.0 164.9 311.0 165.0C307.0 165.1 300.2 163.8 297.0 161.5C293.8 159.2 293.2 156.1 292.0 151.0C290.8 145.9 289.8 137.5 289.8 131.0C289.8 124.5 291.3 117.9 292.0 111.9C292.7 105.9 294.0 100.9 294.0 94.8C294.0 88.7 291.8 81.9 292.0 75.5C292.2 69.1 292.7 61.6 295.0 56.3C297.3 51.0 301.0 46.5 305.6 43.5C310.2 40.5 318.1 38.2 322.7 38.0Z" fill="#e5e0e3" stroke="#cbc4c9" stroke-width="0.9" filter="url(#tex)"/>
<path d="M303.0 62.0C303.6 63.0 305.3 65.3 306.5 68.0C307.7 70.7 308.9 74.7 310.0 78.0C311.1 81.3 311.7 85.3 313.0 88.0C314.3 90.7 317.2 93.0 318.0 94.0" fill="none" stroke="#f3f1f5" stroke-width="2.2" stroke-linecap="round"/>
<path d="M313.0 88.0C312.2 89.5 310.0 94.7 308.0 97.0C306.0 99.3 303.0 100.8 301.0 102.0C299.0 103.2 296.8 103.7 296.0 104.0" fill="none" stroke="#f3f1f5" stroke-width="2" stroke-linecap="round"/>
<path d="M300.0 117.0C301.3 117.2 305.5 117.3 308.0 118.0C310.5 118.7 313.0 119.7 315.0 121.0C317.0 122.3 319.2 125.2 320.0 126.0" fill="none" stroke="#f1eff4" stroke-width="1.8" stroke-linecap="round"/>
<path d="M296.0 142.0C297.2 142.5 301.0 143.7 303.0 145.0C305.0 146.3 307.2 149.2 308.0 150.0" fill="none" stroke="#f1eff4" stroke-width="1.4" stroke-linecap="round"/>
<rect x="367.2" y="6.8" width="50.4" height="32.4" fill="#e4e2e0" filter="url(#tile0)"/>
<rect x="420.2" y="6.8" width="50.2" height="32.4" fill="#e0dbe0" filter="url(#tile1)"/>
<rect x="367.20" y="6.80" width="50.40" height="32.40" fill="none" stroke="#5a5a5a" stroke-width="1.2"/>
<rect x="420.20" y="6.80" width="50.20" height="32.40" fill="none" stroke="#5a5a5a" stroke-width="1.2"/>
<text x="471.50" y="25.70" font-size="7.3" font-weight="bold" text-anchor="start" fill="#000">Cortex</text>
<rect x="367.2" y="41.2" width="50.4" height="32.4" fill="#e7e5e3" filter="url(#tile1)"/>
<rect x="420.2" y="41.2" width="50.2" height="32.4" fill="#e5e3e3" filter="url(#tile0)"/>
<rect x="367.20" y="41.20" width="50.40" height="32.40" fill="none" stroke="#5a5a5a" stroke-width="1.2"/>
<rect x="420.20" y="41.20" width="50.20" height="32.40" fill="none" stroke="#5a5a5a" stroke-width="1.2"/>
<text x="471.50" y="60.10" font-size="7.3" font-weight="bold" text-anchor="start" fill="#000">OSOM</text>
<rect x="367.2" y="75.7" width="50.4" height="32.4" fill="#e2d9dd" filter="url(#tile0)"/>
<rect x="420.2" y="75.7" width="50.2" height="32.4" fill="#e2dade" filter="url(#tile1)"/>
<rect x="367.20" y="75.70" width="50.40" height="32.40" fill="none" stroke="#5a5a5a" stroke-width="1.2"/>
<rect x="420.20" y="75.70" width="50.20" height="32.40" fill="none" stroke="#5a5a5a" stroke-width="1.2"/>
<text x="471.50" y="94.60" font-size="7.3" font-weight="bold" text-anchor="start" fill="#000">ISOM-OS</text>
<rect x="367.2" y="110.1" width="50.4" height="32.4" fill="#e0d8dc" filter="url(#tile1)"/>
<rect x="420.2" y="110.1" width="50.2" height="32.4" fill="#e2dde1" filter="url(#tile0)"/>
<rect x="367.20" y="110.10" width="50.40" height="32.40" fill="none" stroke="#5a5a5a" stroke-width="1.2"/>
<rect x="420.20" y="110.10" width="50.20" height="32.40" fill="none" stroke="#5a5a5a" stroke-width="1.2"/>
<text x="471.50" y="129.00" font-size="7.3" font-weight="bold" text-anchor="start" fill="#000">ISOM-IS</text>
<rect x="367.2" y="144.4" width="50.4" height="32.4" fill="#e2e5eb" filter="url(#tile0)"/>
<rect x="420.2" y="144.4" width="50.2" height="32.4" fill="#dfe2ea" filter="url(#tile1)"/>
<rect x="367.20" y="144.40" width="50.40" height="32.40" fill="none" stroke="#5a5a5a" stroke-width="1.2"/>
<rect x="420.20" y="144.40" width="50.20" height="32.40" fill="none" stroke="#5a5a5a" stroke-width="1.2"/>
<text x="471.50" y="163.30" font-size="7.3" font-weight="bold" text-anchor="start" fill="#000">Inner medulla</text>
<text x="397.30" y="5.00" font-size="7.35" font-weight="bold" text-anchor="middle" fill="#000">Vehicle</text>
<text x="444.70" y="5.00" font-size="7.35" font-weight="bold" text-anchor="middle" fill="#000">Linolenic acid</text>
<path d="M325.5 44.5 L345.0 20.5 L365.0 20.5" fill="none" stroke="#222" stroke-width="0.7"/>
<path d="M366.6 20.5l-4.6 -2.3v4.6z" fill="#111"/>
<path d="M325.0 57.5 L365.0 57.5" fill="none" stroke="#222" stroke-width="0.7"/>
<path d="M366.6 57.5l-4.6 -2.3v4.6z" fill="#111"/>
<path d="M332.0 92.5 L365.0 92.5" fill="none" stroke="#222" stroke-width="0.7"/>
<path d="M366.6 92.5l-4.6 -2.3v4.6z" fill="#111"/>
<path d="M326.0 110.0 L346.0 126.5 L365.0 126.5" fill="none" stroke="#222" stroke-width="0.7"/>
<path d="M366.6 126.5l-4.6 -2.3v4.6z" fill="#111"/>
<path d="M318.0 123.0 L347.5 160.5 L365.0 160.5" fill="none" stroke="#222" stroke-width="0.7"/>
<path d="M366.6 160.5l-4.6 -2.3v4.6z" fill="#111"/>
<text x="1.20" y="238.60" font-size="14.5" font-weight="bold" text-anchor="start" fill="#000">C</text>
<line x1="35.20" y1="238.20" x2="35.20" y2="343.00" stroke="#000" stroke-width="0.7"/>
<line x1="35.20" y1="343.00" x2="152.60" y2="343.00" stroke="#000" stroke-width="0.7"/>
<line x1="32.90" y1="343.00" x2="35.20" y2="343.00" stroke="#000" stroke-width="0.7"/>
<text x="31.60" y="345.60" font-size="6.3" font-weight="bold" text-anchor="end" fill="#000">0</text>
<line x1="32.90" y1="316.80" x2="35.20" y2="316.80" stroke="#000" stroke-width="0.7"/>
<text x="31.60" y="319.40" font-size="6.3" font-weight="bold" text-anchor="end" fill="#000">1</text>
<line x1="32.90" y1="290.60" x2="35.20" y2="290.60" stroke="#000" stroke-width="0.7"/>
<text x="31.60" y="293.20" font-size="6.3" font-weight="bold" text-anchor="end" fill="#000">2</text>
<line x1="32.90" y1="264.40" x2="35.20" y2="264.40" stroke="#000" stroke-width="0.7"/>
<text x="31.60" y="267.00" font-size="6.3" font-weight="bold" text-anchor="end" fill="#000">3</text>
<line x1="32.90" y1="238.20" x2="35.20" y2="238.20" stroke="#000" stroke-width="0.7"/>
<text x="31.60" y="240.80" font-size="6.3" font-weight="bold" text-anchor="end" fill="#000">4</text>
<text x="10.60" y="289.90" font-size="6.2" font-weight="bold" text-anchor="middle" fill="#000" transform="rotate(-90 10.60 289.90)">Relative GDF15 mRNA level</text>
<text x="18.20" y="289.80" font-size="6.2" font-weight="bold" text-anchor="middle" fill="#000" transform="rotate(-90 18.20 289.80)">in different regions of kidney</text>
<text x="25.20" y="290.00" font-size="6.3" font-weight="bold" text-anchor="middle" fill="#000" transform="rotate(-90 25.20 290.00)">(# of mRNA staining dots per cell)</text>
<rect x="42.35" y="236.25" width="6.30" height="2.95" fill="#f4f4f4" stroke="#111" stroke-width="1.1"/>
<rect x="42.35" y="245.05" width="6.30" height="2.95" fill="#9ccbf7" stroke="#111" stroke-width="1.1"/>
<text x="52.50" y="239.80" font-size="6.2" text-anchor="start" fill="#000">Vehicle</text>
<text x="52.50" y="248.30" font-size="6.2" text-anchor="start" fill="#000">Linolenic acid</text>
<rect x="38.50" y="336.45" width="5.30" height="6.55" fill="#e2e2e2" stroke="#111" stroke-width="0.75"/>
<line x1="41.35" y1="335.14" x2="41.35" y2="336.45" stroke="#000" stroke-width="0.7"/>
<line x1="39.55" y1="335.14" x2="43.15" y2="335.14" stroke="#000" stroke-width="0.7"/>
<line x1="41.35" y1="336.45" x2="41.35" y2="337.76" stroke="#000" stroke-width="0.7"/>
<circle cx="39.50" cy="335.00" r="1.05" fill="#000"/>
<circle cx="42.00" cy="334.00" r="1.05" fill="#000"/>
<circle cx="43.50" cy="337.00" r="1.05" fill="#000"/>
<circle cx="40.50" cy="338.00" r="1.05" fill="#000"/>
<rect x="47.80" y="310.25" width="5.30" height="32.75" fill="#88bff3" stroke="#111" stroke-width="0.75"/>
<line x1="50.65" y1="300.56" x2="50.65" y2="310.25" stroke="#000" stroke-width="0.7"/>
<line x1="48.85" y1="300.56" x2="52.45" y2="300.56" stroke="#000" stroke-width="0.7"/>
<line x1="50.65" y1="310.25" x2="50.65" y2="319.94" stroke="#000" stroke-width="0.7"/>
<rect x="49.45" y="290.95" width="2.1" height="2.1" fill="#000"/>
<rect x="49.95" y="306.95" width="2.1" height="2.1" fill="#000"/>
<rect x="49.45" y="313.95" width="2.1" height="2.1" fill="#000"/>
<rect x="49.45" y="321.95" width="2.1" height="2.1" fill="#000"/>
<line x1="46.00" y1="343.00" x2="46.00" y2="345.60" stroke="#000" stroke-width="0.7"/>
<text x="47.90" y="351.00" font-size="6.1" font-weight="bold" text-anchor="end" fill="#000" transform="rotate(-45 47.90 351.00)">Cortex</text>
<rect x="62.70" y="337.24" width="5.30" height="5.76" fill="#e2e2e2" stroke="#111" stroke-width="0.75"/>
<line x1="65.55" y1="334.09" x2="65.55" y2="337.24" stroke="#000" stroke-width="0.7"/>
<line x1="63.75" y1="334.09" x2="67.35" y2="334.09" stroke="#000" stroke-width="0.7"/>
<line x1="65.55" y1="337.24" x2="65.55" y2="340.38" stroke="#000" stroke-width="0.7"/>
<circle cx="65.50" cy="332.50" r="1.05" fill="#000"/>
<circle cx="64.00" cy="338.00" r="1.05" fill="#000"/>
<circle cx="67.00" cy="339.00" r="1.05" fill="#000"/>
<circle cx="65.50" cy="340.00" r="1.05" fill="#000"/>
<rect x="72.00" y="319.16" width="5.30" height="23.84" fill="#88bff3" stroke="#111" stroke-width="0.75"/>
<line x1="74.85" y1="315.49" x2="74.85" y2="319.16" stroke="#000" stroke-width="0.7"/>
<line x1="73.05" y1="315.49" x2="76.65" y2="315.49" stroke="#000" stroke-width="0.7"/>
<line x1="74.85" y1="319.16" x2="74.85" y2="322.83" stroke="#000" stroke-width="0.7"/>
<rect x="73.75" y="310.55" width="2.1" height="2.1" fill="#000"/>
<rect x="73.95" y="316.95" width="2.1" height="2.1" fill="#000"/>
<rect x="73.75" y="321.95" width="2.1" height="2.1" fill="#000"/>
<line x1="70.20" y1="343.00" x2="70.20" y2="345.60" stroke="#000" stroke-width="0.7"/>
<text x="72.10" y="351.00" font-size="6.1" font-weight="bold" text-anchor="end" fill="#000" transform="rotate(-45 72.10 351.00)">OSOM</text>
<rect x="86.90" y="297.15" width="5.30" height="45.85" fill="#e2e2e2" stroke="#111" stroke-width="0.75"/>
<line x1="89.75" y1="293.22" x2="89.75" y2="297.15" stroke="#000" stroke-width="0.7"/>
<line x1="87.95" y1="293.22" x2="91.55" y2="293.22" stroke="#000" stroke-width="0.7"/>
<line x1="89.75" y1="297.15" x2="89.75" y2="301.08" stroke="#000" stroke-width="0.7"/>
<circle cx="89.50" cy="288.00" r="1.05" fill="#000"/>
<circle cx="89.50" cy="298.50" r="1.05" fill="#000"/>
<circle cx="88.00" cy="302.00" r="1.05" fill="#000"/>
<circle cx="91.00" cy="300.00" r="1.05" fill="#000"/>
<rect x="96.20" y="305.80" width="5.30" height="37.20" fill="#88bff3" stroke="#111" stroke-width="0.75"/>
<line x1="99.05" y1="300.03" x2="99.05" y2="305.80" stroke="#000" stroke-width="0.7"/>
<line x1="97.25" y1="300.03" x2="100.85" y2="300.03" stroke="#000" stroke-width="0.7"/>
<line x1="99.05" y1="305.80" x2="99.05" y2="311.56" stroke="#000" stroke-width="0.7"/>
<rect x="97.95" y="295.25" width="2.1" height="2.1" fill="#000"/>
<rect x="99.95" y="307.65" width="2.1" height="2.1" fill="#000"/>
<rect x="96.75" y="309.65" width="2.1" height="2.1" fill="#000"/>
<line x1="94.40" y1="343.00" x2="94.40" y2="345.60" stroke="#000" stroke-width="0.7"/>
<text x="96.30" y="351.00" font-size="6.1" font-weight="bold" text-anchor="end" fill="#000" transform="rotate(-45 96.30 351.00)">ISOM</text>
<rect x="111.10" y="276.45" width="5.30" height="66.55" fill="#e2e2e2" stroke="#111" stroke-width="0.75"/>
<line x1="113.95" y1="268.59" x2="113.95" y2="276.45" stroke="#000" stroke-width="0.7"/>
<line x1="112.15" y1="268.59" x2="115.75" y2="268.59" stroke="#000" stroke-width="0.7"/>
<line x1="113.95" y1="276.45" x2="113.95" y2="284.31" stroke="#000" stroke-width="0.7"/>
<circle cx="113.60" cy="264.60" r="1.05" fill="#000"/>
<circle cx="113.00" cy="270.50" r="1.05" fill="#000"/>
<circle cx="115.00" cy="279.30" r="1.05" fill="#000"/>
<circle cx="112.50" cy="283.70" r="1.05" fill="#000"/>
<rect x="120.40" y="278.81" width="5.30" height="64.19" fill="#88bff3" stroke="#111" stroke-width="0.75"/>
<line x1="123.25" y1="273.05" x2="123.25" y2="278.81" stroke="#000" stroke-width="0.7"/>
<line x1="121.45" y1="273.05" x2="125.05" y2="273.05" stroke="#000" stroke-width="0.7"/>
<line x1="123.25" y1="278.81" x2="123.25" y2="284.57" stroke="#000" stroke-width="0.7"/>
<rect x="121.65" y="267.05" width="2.1" height="2.1" fill="#000"/>
<rect x="123.65" y="278.25" width="2.1" height="2.1" fill="#000"/>
<rect x="120.75" y="281.15" width="2.1" height="2.1" fill="#000"/>
<line x1="118.60" y1="343.00" x2="118.60" y2="345.60" stroke="#000" stroke-width="0.7"/>
<text x="120.50" y="351.00" font-size="6.1" font-weight="bold" text-anchor="end" fill="#000" transform="rotate(-45 120.50 351.00)">ISOM-OS</text>
<rect x="135.30" y="333.31" width="5.30" height="9.69" fill="#e2e2e2" stroke="#111" stroke-width="0.75"/>
<line x1="138.15" y1="330.69" x2="138.15" y2="333.31" stroke="#000" stroke-width="0.7"/>
<line x1="136.35" y1="330.69" x2="139.95" y2="330.69" stroke="#000" stroke-width="0.7"/>
<line x1="138.15" y1="333.31" x2="138.15" y2="335.93" stroke="#000" stroke-width="0.7"/>
<circle cx="136.60" cy="331.70" r="1.05" fill="#000"/>
<circle cx="139.90" cy="331.00" r="1.05" fill="#000"/>
<circle cx="138.30" cy="335.30" r="1.05" fill="#000"/>
<circle cx="137.30" cy="339.20" r="1.05" fill="#000"/>
<rect x="144.60" y="333.31" width="5.30" height="9.69" fill="#88bff3" stroke="#111" stroke-width="0.75"/>
<line x1="147.45" y1="332.00" x2="147.45" y2="333.31" stroke="#000" stroke-width="0.7"/>
<line x1="145.65" y1="332.00" x2="149.25" y2="332.00" stroke="#000" stroke-width="0.7"/>
<line x1="147.45" y1="333.31" x2="147.45" y2="334.62" stroke="#000" stroke-width="0.7"/>
<rect x="144.45" y="331.65" width="2.1" height="2.1" fill="#000"/>
<rect x="147.65" y="330.65" width="2.1" height="2.1" fill="#000"/>
<rect x="146.05" y="334.25" width="2.1" height="2.1" fill="#000"/>
<line x1="142.80" y1="343.00" x2="142.80" y2="345.60" stroke="#000" stroke-width="0.7"/>
<text x="144.70" y="351.00" font-size="6.1" font-weight="bold" text-anchor="end" fill="#000" transform="rotate(-45 144.70 351.00)">Medulla</text>
<path d="M41.10 288.20V285.20H50.50V288.20" fill="none" stroke="#000" stroke-width="0.7"/>
<text x="45.80" y="281.00" font-size="6.5" text-anchor="middle" fill="#000">0.0010</text>
<path d="M65.20 308.70V305.70H74.80V308.70" fill="none" stroke="#000" stroke-width="0.7"/>
<text x="69.80" y="302.00" font-size="6.3" text-anchor="middle" fill="#000">0.0324</text>
<text x="177.30" y="222.70" font-size="14.2" font-weight="bold" text-anchor="start" fill="#000">D</text>
<line x1="204.50" y1="224.30" x2="204.50" y2="346.20" stroke="#000" stroke-width="0.7"/>
<line x1="204.50" y1="346.20" x2="265.30" y2="346.20" stroke="#000" stroke-width="0.7"/>
<line x1="202.20" y1="346.20" x2="204.50" y2="346.20" stroke="#000" stroke-width="0.7"/>
<text x="201.20" y="348.60" font-size="6.1" font-weight="bold" text-anchor="end" fill="#000">0.5</text>
<line x1="202.20" y1="321.80" x2="204.50" y2="321.80" stroke="#000" stroke-width="0.7"/>
<text x="201.20" y="324.20" font-size="6.1" font-weight="bold" text-anchor="end" fill="#000">1.0</text>
<line x1="202.20" y1="297.40" x2="204.50" y2="297.40" stroke="#000" stroke-width="0.7"/>
<text x="201.20" y="299.80" font-size="6.1" font-weight="bold" text-anchor="end" fill="#000">1.5</text>
<line x1="202.20" y1="273.00" x2="204.50" y2="273.00" stroke="#000" stroke-width="0.7"/>
<text x="201.20" y="275.40" font-size="6.1" font-weight="bold" text-anchor="end" fill="#000">2.0</text>
<line x1="202.20" y1="248.60" x2="204.50" y2="248.60" stroke="#000" stroke-width="0.7"/>
<text x="201.20" y="251.00" font-size="6.1" font-weight="bold" text-anchor="end" fill="#000">2.5</text>
<line x1="202.20" y1="224.20" x2="204.50" y2="224.20" stroke="#000" stroke-width="0.7"/>
<text x="201.20" y="226.60" font-size="6.1" font-weight="bold" text-anchor="end" fill="#000">3.0</text>
<text x="181.20" y="284.90" font-size="6.8" font-weight="bold" text-anchor="middle" fill="#000" transform="rotate(-90 181.20 284.90)">Gene expression in kidney</text>
<text x="188.80" y="286.00" font-size="6.85" font-weight="bold" text-anchor="middle" fill="#000" transform="rotate(-90 188.80 286.00)">(Normalized to vehicle)</text>
<rect x="211.35" y="227.75" width="5.90" height="3.20" fill="#f4f4f4" stroke="#111" stroke-width="1.1"/>
<rect x="211.35" y="236.35" width="5.90" height="2.90" fill="#9ccbf7" stroke="#111" stroke-width="1.1"/>
<text x="221.40" y="231.20" font-size="6.05" text-anchor="start" fill="#000">Vehicle</text>
<text x="221.40" y="239.80" font-size="6.05" text-anchor="start" fill="#000">Linolenic acid</text>
<rect x="207.55" y="320.34" width="4.60" height="25.86" fill="#ececec" stroke="#111" stroke-width="0.75"/>
<line x1="209.85" y1="313.99" x2="209.85" y2="320.34" stroke="#000" stroke-width="0.7"/>
<line x1="208.45" y1="313.99" x2="211.25" y2="313.99" stroke="#000" stroke-width="0.7"/>
<circle cx="210.81" cy="299.34" r="0.65" fill="#000"/>
<circle cx="210.29" cy="308.01" r="0.65" fill="#000"/>
<circle cx="209.31" cy="322.22" r="0.65" fill="#000"/>
<circle cx="209.74" cy="311.08" r="0.65" fill="#000"/>
<circle cx="209.23" cy="312.77" r="0.65" fill="#000"/>
<circle cx="211.05" cy="308.81" r="0.65" fill="#000"/>
<circle cx="209.19" cy="304.60" r="0.65" fill="#000"/>
<circle cx="211.06" cy="323.07" r="0.65" fill="#000"/>
<rect x="215.85" y="293.98" width="4.60" height="52.22" fill="#88bff3" stroke="#111" stroke-width="0.75"/>
<line x1="218.15" y1="285.69" x2="218.15" y2="293.98" stroke="#000" stroke-width="0.7"/>
<line x1="216.75" y1="285.69" x2="219.55" y2="285.69" stroke="#000" stroke-width="0.7"/>
<circle cx="216.85" cy="299.68" r="0.65" fill="#000"/>
<circle cx="217.84" cy="279.48" r="0.65" fill="#000"/>
<circle cx="217.37" cy="313.35" r="0.65" fill="#000"/>
<circle cx="218.16" cy="290.87" r="0.65" fill="#000"/>
<circle cx="217.08" cy="280.99" r="0.65" fill="#000"/>
<circle cx="217.89" cy="293.58" r="0.65" fill="#000"/>
<circle cx="217.64" cy="290.57" r="0.65" fill="#000"/>
<circle cx="217.46" cy="293.07" r="0.65" fill="#000"/>
<line x1="214.00" y1="346.20" x2="214.00" y2="348.80" stroke="#000" stroke-width="0.7"/>
<text x="213.70" y="356.10" font-size="6.9" font-weight="bold" text-anchor="middle" fill="#000">Chop</text>
<rect x="228.70" y="320.34" width="4.60" height="25.86" fill="#ececec" stroke="#111" stroke-width="0.75"/>
<line x1="231.00" y1="314.97" x2="231.00" y2="320.34" stroke="#000" stroke-width="0.7"/>
<line x1="229.60" y1="314.97" x2="232.40" y2="314.97" stroke="#000" stroke-width="0.7"/>
<circle cx="231.65" cy="331.65" r="0.65" fill="#000"/>
<circle cx="231.41" cy="327.09" r="0.65" fill="#000"/>
<circle cx="230.71" cy="325.02" r="0.65" fill="#000"/>
<circle cx="230.55" cy="341.32" r="0.65" fill="#000"/>
<circle cx="231.58" cy="314.26" r="0.65" fill="#000"/>
<circle cx="231.37" cy="320.92" r="0.65" fill="#000"/>
<circle cx="232.02" cy="300.71" r="0.65" fill="#000"/>
<circle cx="231.33" cy="314.80" r="0.65" fill="#000"/>
<rect x="236.85" y="303.26" width="4.60" height="42.94" fill="#88bff3" stroke="#111" stroke-width="0.75"/>
<line x1="239.15" y1="299.84" x2="239.15" y2="303.26" stroke="#000" stroke-width="0.7"/>
<line x1="237.75" y1="299.84" x2="240.55" y2="299.84" stroke="#000" stroke-width="0.7"/>
<circle cx="238.21" cy="304.52" r="0.65" fill="#000"/>
<circle cx="239.21" cy="315.69" r="0.65" fill="#000"/>
<circle cx="239.94" cy="316.22" r="0.65" fill="#000"/>
<circle cx="240.00" cy="303.61" r="0.65" fill="#000"/>
<circle cx="239.63" cy="315.73" r="0.65" fill="#000"/>
<circle cx="239.65" cy="310.53" r="0.65" fill="#000"/>
<circle cx="238.20" cy="303.04" r="0.65" fill="#000"/>
<circle cx="238.79" cy="301.55" r="0.65" fill="#000"/>
<line x1="235.07" y1="346.20" x2="235.07" y2="348.80" stroke="#000" stroke-width="0.7"/>
<text x="234.77" y="356.10" font-size="6.9" font-weight="bold" text-anchor="middle" fill="#000">Atf4</text>
<rect x="249.80" y="321.80" width="4.60" height="24.40" fill="#ececec" stroke="#111" stroke-width="0.75"/>
<line x1="252.10" y1="317.90" x2="252.10" y2="321.80" stroke="#000" stroke-width="0.7"/>
<line x1="250.70" y1="317.90" x2="253.50" y2="317.90" stroke="#000" stroke-width="0.7"/>
<circle cx="252.25" cy="310.07" r="0.65" fill="#000"/>
<circle cx="252.43" cy="312.71" r="0.65" fill="#000"/>
<circle cx="252.07" cy="330.08" r="0.65" fill="#000"/>
<circle cx="250.81" cy="330.21" r="0.65" fill="#000"/>
<circle cx="252.11" cy="317.97" r="0.65" fill="#000"/>
<circle cx="252.19" cy="334.19" r="0.65" fill="#000"/>
<circle cx="252.72" cy="323.36" r="0.65" fill="#000"/>
<circle cx="251.46" cy="324.23" r="0.65" fill="#000"/>
<rect x="257.85" y="301.30" width="4.60" height="44.90" fill="#88bff3" stroke="#111" stroke-width="0.75"/>
<line x1="260.15" y1="294.96" x2="260.15" y2="301.30" stroke="#000" stroke-width="0.7"/>
<line x1="258.75" y1="294.96" x2="261.55" y2="294.96" stroke="#000" stroke-width="0.7"/>
<circle cx="260.75" cy="292.41" r="0.65" fill="#000"/>
<circle cx="259.38" cy="296.81" r="0.65" fill="#000"/>
<circle cx="260.13" cy="303.51" r="0.65" fill="#000"/>
<circle cx="259.84" cy="335.84" r="0.65" fill="#000"/>
<circle cx="260.84" cy="320.39" r="0.65" fill="#000"/>
<circle cx="260.45" cy="298.77" r="0.65" fill="#000"/>
<circle cx="259.23" cy="304.48" r="0.65" fill="#000"/>
<circle cx="259.51" cy="305.29" r="0.65" fill="#000"/>
<line x1="256.12" y1="346.20" x2="256.12" y2="348.80" stroke="#000" stroke-width="0.7"/>
<text x="255.82" y="356.10" font-size="6.9" font-weight="bold" text-anchor="middle" fill="#000">Xbp1s</text>
<circle cx="217.60" cy="253.48" r="0.8" fill="#000"/>
<circle cx="218.00" cy="281.78" r="0.8" fill="#000"/>
<circle cx="260.00" cy="275.44" r="0.8" fill="#000"/>
<circle cx="260.00" cy="283.74" r="0.8" fill="#000"/>
<circle cx="209.80" cy="301.30" r="0.8" fill="#000"/>
<circle cx="231.00" cy="302.28" r="0.8" fill="#000"/>
<path d="M209.70 277.20V274.20H218.30V277.20" fill="none" stroke="#000" stroke-width="0.7"/>
<text x="214.00" y="270.20" font-size="6.9" text-anchor="middle" fill="#000">0.0020</text>
<path d="M230.10 290.10V287.10H238.70V290.10" fill="none" stroke="#000" stroke-width="0.7"/>
<text x="234.40" y="283.80" font-size="6.9" text-anchor="middle" fill="#000">0.0514</text>
<path d="M251.60 270.80V267.80H260.30V270.80" fill="none" stroke="#000" stroke-width="0.7"/>
<text x="255.60" y="264.10" font-size="7.0" text-anchor="middle" fill="#000">0.0236</text>
<text x="319.00" y="223.00" font-size="14.2" font-weight="bold" text-anchor="start" fill="#000">E</text>
<rect x="344.60" y="229.20" width="37.30" height="7.20" fill="#f3f3f3" stroke="#222" stroke-width="0.8"/>
<rect x="344.60" y="238.90" width="37.30" height="6.70" fill="#f3f3f3" stroke="#222" stroke-width="0.8"/>
<g filter="url(#blur)"><ellipse cx="353.3" cy="233.1" rx="6.2" ry="1.5" fill="#5e5e5e"/><ellipse cx="372.7" cy="232.9" rx="6.8" ry="1.8" fill="#4a4a4a"/></g>
<g filter="url(#blur2)"><ellipse cx="353.5" cy="242.1" rx="6.8" ry="1.15" fill="#000"/><ellipse cx="373.8" cy="241.8" rx="7.1" ry="1.2" fill="#000"/></g>
<text x="343.40" y="236.20" font-size="7.0" text-anchor="end" fill="#000">ATF4</text>
<text x="343.20" y="244.80" font-size="6.9" text-anchor="end" fill="#000">β-actin</text>
<text x="364.10" y="253.00" font-size="7.2" text-anchor="middle" fill="#000">0.0421</text>
<path d="M358.5 272V257.6H370.2V263.5" fill="none" stroke="#000" stroke-width="0.7"/>
<line x1="350.30" y1="261.70" x2="350.30" y2="348.80" stroke="#000" stroke-width="0.7"/>
<line x1="350.30" y1="348.80" x2="377.80" y2="348.80" stroke="#000" stroke-width="0.7"/>
<line x1="347.70" y1="348.80" x2="350.30" y2="348.80" stroke="#000" stroke-width="0.7"/>
<text x="346.70" y="351.20" font-size="6.7" font-weight="bold" text-anchor="end" fill="#000">0.0</text>
<line x1="347.70" y1="319.75" x2="350.30" y2="319.75" stroke="#000" stroke-width="0.7"/>
<text x="346.70" y="322.15" font-size="6.7" font-weight="bold" text-anchor="end" fill="#000">0.5</text>
<line x1="347.70" y1="290.70" x2="350.30" y2="290.70" stroke="#000" stroke-width="0.7"/>
<text x="346.70" y="293.10" font-size="6.7" font-weight="bold" text-anchor="end" fill="#000">1.0</text>
<line x1="347.70" y1="261.65" x2="350.30" y2="261.65" stroke="#000" stroke-width="0.7"/>
<text x="346.70" y="264.05" font-size="6.7" font-weight="bold" text-anchor="end" fill="#000">1.5</text>
<text x="325.40" y="305.20" font-size="7.2" font-weight="bold" text-anchor="middle" fill="#000" transform="rotate(-90 325.40 305.20)">ATF4 protein level</text>
<text x="334.20" y="305.20" font-size="7.2" font-weight="bold" text-anchor="middle" fill="#000" transform="rotate(-90 334.20 305.20)">(normalized to vehicle)</text>
<rect x="355.25" y="290.70" width="6.00" height="58.10" fill="#e2e2e2" stroke="#111" stroke-width="0.75"/>
<rect x="367.35" y="276.18" width="6.00" height="72.62" fill="#88bff3" stroke="#111" stroke-width="0.75"/>
<line x1="358.30" y1="287.21" x2="358.30" y2="290.70" stroke="#000" stroke-width="0.7"/>
<line x1="356.80" y1="287.21" x2="359.80" y2="287.21" stroke="#000" stroke-width="0.7"/>
<line x1="370.30" y1="271.53" x2="370.30" y2="276.18" stroke="#000" stroke-width="0.7"/>
<line x1="368.80" y1="271.53" x2="371.80" y2="271.53" stroke="#000" stroke-width="0.7"/>
<circle cx="358.79" cy="281.99" r="0.6" fill="#000"/>
<circle cx="357.91" cy="292.44" r="0.6" fill="#000"/>
<circle cx="358.44" cy="294.77" r="0.6" fill="#000"/>
<circle cx="357.32" cy="296.51" r="0.6" fill="#000"/>
<circle cx="369.42" cy="268.62" r="0.6" fill="#000"/>
<circle cx="369.84" cy="279.08" r="0.6" fill="#000"/>
<circle cx="370.64" cy="281.99" r="0.6" fill="#000"/>
<circle cx="370.68" cy="284.89" r="0.6" fill="#000"/>
<line x1="358.30" y1="348.80" x2="358.30" y2="352.50" stroke="#000" stroke-width="0.7"/>
<line x1="370.00" y1="348.80" x2="370.00" y2="352.50" stroke="#000" stroke-width="0.7"/>
<text x="361.50" y="357.50" font-size="7.0" font-weight="bold" text-anchor="end" fill="#000" transform="rotate(-45 361.50 357.50)">Vehicle</text>
<text x="373.50" y="358.50" font-size="7.0" font-weight="bold" text-anchor="end" fill="#000" transform="rotate(-45 373.50 358.50)">LA</text>
</svg></body></html>
